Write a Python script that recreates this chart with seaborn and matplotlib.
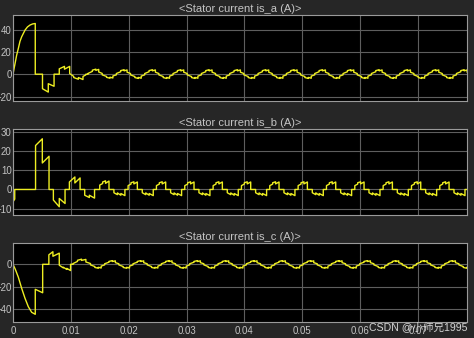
import matplotlib
matplotlib.use("Agg")
import numpy as np
import pandas as pd
import seaborn as sns
import matplotlib.pyplot as plt

# ---------------- data: (time in ms, current in A) ----------------
IS_A = [
    (0.0, 0.0), (0.3, 8.0), (0.63, 17.0), (0.92, 23.0), (1.21, 29.5), (1.5, 33.5),
    (2.08, 39.5), (2.5, 42.3), (2.94, 44.0), (3.4, 45.0), (3.85, 45.4), (3.85, 0.0),
    (5.1, 0.0), (5.1, -13.0), (6.1, -16.0), (6.1, -8.5), (7.1, -10.8), (7.1, 0.0),
    (8.0, 0.0), (8.0, 4.8), (8.9, 7.0), (8.9, 4.5), (9.8, 7.0), (9.8, 0.6),
    (10.5, -2.0), (10.5, -3.0), (11.3, -4.5), (11.3, -3.0), (12.1, -4.8), (12.1, -2.0), (12.6, -0.6), (12.6, 0.0), (12.97, 0.0),
    (12.97, 0.7), (13.72, 2.5), (13.72, 3.6), (14.32, 4.5), (14.32, 3.4), (14.82, 4.3), (14.82, 2.0), (15.42, 0.7),
    (15.42, -0.6), (16.17, -2.0), (16.17, -2.8), (16.77, -3.6), (16.77, -2.7), (17.27, -3.4), (17.27, -1.6), (17.87, -0.6),
    (17.87, 0.6), (18.62, 2.2), (18.62, 3.2), (19.22, 4.0), (19.22, 3.0), (19.72, 3.8), (19.72, 1.8), (20.32, 0.6),
    (20.32, -0.6), (21.07, -2.1), (21.07, -3.0), (21.67, -3.8), (21.67, -2.9), (22.17, -3.6), (22.17, -1.7), (22.77, -0.6),
    (22.77, 0.6), (23.52, 2.2), (23.52, 3.2), (24.12, 4.0), (24.12, 3.0), (24.62, 3.8), (24.62, 1.8), (25.22, 0.6),
    (25.22, -0.6), (25.97, -2.1), (25.97, -3.0), (26.57, -3.8), (26.57, -2.9), (27.07, -3.6), (27.07, -1.7), (27.67, -0.6),
    (27.67, 0.6), (28.42, 2.2), (28.42, 3.2), (29.02, 4.0), (29.02, 3.0), (29.52, 3.8), (29.52, 1.8), (30.12, 0.6),
    (30.12, -0.6), (30.87, -2.1), (30.87, -3.0), (31.47, -3.8), (31.47, -2.9), (31.97, -3.6), (31.97, -1.7), (32.57, -0.6),
    (32.57, 0.6), (33.32, 2.2), (33.32, 3.2), (33.92, 4.0), (33.92, 3.0), (34.42, 3.8), (34.42, 1.8), (35.02, 0.6),
    (35.02, -0.6), (35.77, -2.1), (35.77, -3.0), (36.37, -3.8), (36.37, -2.9), (36.87, -3.6), (36.87, -1.7), (37.47, -0.6),
    (37.47, 0.6), (38.22, 2.2), (38.22, 3.2), (38.82, 4.0), (38.82, 3.0), (39.32, 3.8), (39.32, 1.8), (39.92, 0.6),
    (39.92, -0.6), (40.67, -2.1), (40.67, -3.0), (41.27, -3.8), (41.27, -2.9), (41.77, -3.6), (41.77, -1.7), (42.37, -0.6),
    (42.37, 0.6), (43.12, 2.2), (43.12, 3.2), (43.72, 4.0), (43.72, 3.0), (44.22, 3.8), (44.22, 1.8), (44.82, 0.6),
    (44.82, -0.6), (45.57, -2.1), (45.57, -3.0), (46.17, -3.8), (46.17, -2.9), (46.67, -3.6), (46.67, -1.7), (47.27, -0.6),
    (47.27, 0.6), (48.02, 2.2), (48.02, 3.2), (48.62, 4.0), (48.62, 3.0), (49.12, 3.8), (49.12, 1.8), (49.72, 0.6),
    (49.72, -0.6), (50.47, -2.1), (50.47, -3.0), (51.07, -3.8), (51.07, -2.9), (51.57, -3.6), (51.57, -1.7), (52.17, -0.6),
    (52.17, 0.6), (52.92, 2.2), (52.92, 3.2), (53.52, 4.0), (53.52, 3.0), (54.02, 3.8), (54.02, 1.8), (54.62, 0.6),
    (54.62, -0.6), (55.37, -2.1), (55.37, -3.0), (55.97, -3.8), (55.97, -2.9), (56.47, -3.6), (56.47, -1.7), (57.07, -0.6),
    (57.07, 0.6), (57.82, 2.2), (57.82, 3.2), (58.42, 4.0), (58.42, 3.0), (58.92, 3.8), (58.92, 1.8), (59.52, 0.6),
    (59.52, -0.6), (60.27, -2.1), (60.27, -3.0), (60.87, -3.8), (60.87, -2.9), (61.37, -3.6), (61.37, -1.7), (61.97, -0.6),
    (61.97, 0.6), (62.72, 2.2), (62.72, 3.2), (63.32, 4.0), (63.32, 3.0), (63.82, 3.8), (63.82, 1.8), (64.42, 0.6),
    (64.42, -0.6), (65.17, -2.1), (65.17, -3.0), (65.77, -3.8), (65.77, -2.9), (66.27, -3.6), (66.27, -1.7), (66.87, -0.6),
    (66.87, 0.6), (67.62, 2.2), (67.62, 3.2), (68.22, 4.0), (68.22, 3.0), (68.72, 3.8), (68.72, 1.8), (69.32, 0.6),
    (69.32, -0.6), (70.07, -2.1), (70.07, -3.0), (70.67, -3.8), (70.67, -2.9), (71.17, -3.6), (71.17, -1.7), (71.77, -0.6),
    (71.77, 0.6), (72.52, 2.2), (72.52, 3.2), (73.12, 4.0), (73.12, 3.0), (73.62, 3.8), (73.62, 1.8), (74.22, 0.6),
    (74.22, -0.6), (74.97, -2.1), (74.97, -3.0), (75.57, -3.8), (75.57, -2.9), (76.07, -3.6), (76.07, -1.7), (76.67, -0.6),
    (76.67, 0.6), (77.42, 2.2), (77.42, 3.2), (78.02, 4.0), (78.02, 3.0), (78.52, 3.8), (78.52, 1.8), (79.12, 0.6),
]

IS_B = [
    (0.0, 0.0), (0.05, -6.2), (0.3, -5.0), (0.3, 0.0), (3.9, 0.0), (3.9, 22.9), (5.07, 26.4), (5.07, 13.8),
    (6.23, 17.3), (6.23, 0.0), (6.98, 0.0), (6.98, -5.5), (8.0, -9.0), (8.0, -4.7), (9.0, -7.3), (9.0, 0.0),
    (9.75, 0.0), (9.75, 3.9), (10.7, 6.5), (10.7, 3.4), (11.6, 6.0), (11.6, 0.0),
    (12.4, 0.0), (12.4, -3.0), (13.2, -4.2), (13.2, -3.0), (14.1, -4.5), (14.1, 0.0),
    (15.0, 0.0), (15.0, 2.3), (15.5, 3.1), (15.5, 3.9), (16.0, 4.5), (16.0, 3.2), (16.6, 4.4), (16.6, 0.0),
    (17.45, 0.0), (17.45, -1.7), (18.05, -2.7), (18.05, -1.8), (18.65, -3.0), (18.65, -2.1), (19.35, -3.2), (19.35, 0.0),
    (19.9, 0.0), (19.9, 2.0), (20.4, 2.8), (20.4, 3.5), (20.9, 4.0), (20.9, 2.9), (21.5, 3.9), (21.5, 0.0),
    (22.35, 0.0), (22.35, -1.7), (22.95, -2.7), (22.95, -1.8), (23.55, -3.0), (23.55, -2.1), (24.25, -3.2), (24.25, 0.0),
    (24.8, 0.0), (24.8, 2.0), (25.3, 2.8), (25.3, 3.5), (25.8, 4.0), (25.8, 2.9), (26.4, 3.9), (26.4, 0.0),
    (27.25, 0.0), (27.25, -1.7), (27.85, -2.7), (27.85, -1.8), (28.45, -3.0), (28.45, -2.1), (29.15, -3.2), (29.15, 0.0),
    (29.7, 0.0), (29.7, 2.0), (30.2, 2.8), (30.2, 3.5), (30.7, 4.0), (30.7, 2.9), (31.3, 3.9), (31.3, 0.0),
    (32.15, 0.0), (32.15, -1.7), (32.75, -2.7), (32.75, -1.8), (33.35, -3.0), (33.35, -2.1), (34.05, -3.2), (34.05, 0.0),
    (34.6, 0.0), (34.6, 2.0), (35.1, 2.8), (35.1, 3.5), (35.6, 4.0), (35.6, 2.9), (36.2, 3.9), (36.2, 0.0),
    (37.05, 0.0), (37.05, -1.7), (37.65, -2.7), (37.65, -1.8), (38.25, -3.0), (38.25, -2.1), (38.95, -3.2), (38.95, 0.0),
    (39.5, 0.0), (39.5, 2.0), (40.0, 2.8), (40.0, 3.5), (40.5, 4.0), (40.5, 2.9), (41.1, 3.9), (41.1, 0.0),
    (41.95, 0.0), (41.95, -1.7), (42.55, -2.7), (42.55, -1.8), (43.15, -3.0), (43.15, -2.1), (43.85, -3.2), (43.85, 0.0),
    (44.4, 0.0), (44.4, 2.0), (44.9, 2.8), (44.9, 3.5), (45.4, 4.0), (45.4, 2.9), (46.0, 3.9), (46.0, 0.0),
    (46.85, 0.0), (46.85, -1.7), (47.45, -2.7), (47.45, -1.8), (48.05, -3.0), (48.05, -2.1), (48.75, -3.2), (48.75, 0.0),
    (49.3, 0.0), (49.3, 2.0), (49.8, 2.8), (49.8, 3.5), (50.3, 4.0), (50.3, 2.9), (50.9, 3.9), (50.9, 0.0),
    (51.75, 0.0), (51.75, -1.7), (52.35, -2.7), (52.35, -1.8), (52.95, -3.0), (52.95, -2.1), (53.65, -3.2), (53.65, 0.0),
    (54.2, 0.0), (54.2, 2.0), (54.7, 2.8), (54.7, 3.5), (55.2, 4.0), (55.2, 2.9), (55.8, 3.9), (55.8, 0.0),
    (56.65, 0.0), (56.65, -1.7), (57.25, -2.7), (57.25, -1.8), (57.85, -3.0), (57.85, -2.1), (58.55, -3.2), (58.55, 0.0),
    (59.1, 0.0), (59.1, 2.0), (59.6, 2.8), (59.6, 3.5), (60.1, 4.0), (60.1, 2.9), (60.7, 3.9), (60.7, 0.0),
    (61.55, 0.0), (61.55, -1.7), (62.15, -2.7), (62.15, -1.8), (62.75, -3.0), (62.75, -2.1), (63.45, -3.2), (63.45, 0.0),
    (64.0, 0.0), (64.0, 2.0), (64.5, 2.8), (64.5, 3.5), (65.0, 4.0), (65.0, 2.9), (65.6, 3.9), (65.6, 0.0),
    (66.45, 0.0), (66.45, -1.7), (67.05, -2.7), (67.05, -1.8), (67.65, -3.0), (67.65, -2.1), (68.35, -3.2), (68.35, 0.0),
    (68.9, 0.0), (68.9, 2.0), (69.4, 2.8), (69.4, 3.5), (69.9, 4.0), (69.9, 2.9), (70.5, 3.9), (70.5, 0.0),
    (71.35, 0.0), (71.35, -1.7), (71.95, -2.7), (71.95, -1.8), (72.55, -3.0), (72.55, -2.1), (73.25, -3.2), (73.25, 0.0),
    (73.8, 0.0), (73.8, 2.0), (74.3, 2.8), (74.3, 3.5), (74.8, 4.0), (74.8, 2.9), (75.4, 3.9), (75.4, 0.0),
    (76.25, 0.0), (76.25, -1.7), (76.85, -2.7), (76.85, -1.8), (77.45, -3.0), (77.45, -2.1), (78.15, -3.2), (78.15, 0.0),
    (78.7, 0.0), (78.7, 2.0), (79.2, 2.8),
]

IS_C = [
    (0.0, 0.0), (0.4, -4.5), (0.92, -11.5), (1.5, -21.5), (2.08, -30.5), (2.65, -38.0), (3.23, -43.0), (3.85, -44.8),
    (3.85, -22.4), (5.13, -25.5), (5.13, 0.0), (6.2, 0.0), (6.2, 8.5), (6.9, 11.3), (6.9, 7.2), (8.0, 10.0),
    (8.0, -0.8), (8.7, -3.2), (8.7, -2.6), (9.3, -4.6), (9.3, -3.6), (9.95, -5.6), (9.95, 0.0), (10.4, 0.0),
    (10.4, 0.7), (11.15, 2.6), (11.15, 3.6), (11.85, 4.6), (11.85, 3.5), (12.6, 4.4), (12.6, 2.1), (13.4, 0.7),
    (13.4, -0.5), (14.15, -2.0), (14.15, -2.8), (14.75, -3.5), (14.75, -2.7), (15.25, -3.3), (15.25, -1.6), (15.85, -0.5),
    (15.85, 0.5), (16.6, 1.9), (16.6, 2.6), (17.2, 3.3), (17.2, 2.5), (17.7, 3.1), (17.7, 1.5), (18.3, 0.5),
    (18.3, -0.5), (19.05, -2.0), (19.05, -2.8), (19.65, -3.5), (19.65, -2.7), (20.15, -3.3), (20.15, -1.6), (20.75, -0.5),
    (20.75, 0.5), (21.5, 1.9), (21.5, 2.6), (22.1, 3.3), (22.1, 2.5), (22.6, 3.1), (22.6, 1.5), (23.2, 0.5),
    (23.2, -0.5), (23.95, -2.0), (23.95, -2.8), (24.55, -3.5), (24.55, -2.7), (25.05, -3.3), (25.05, -1.6), (25.65, -0.5),
    (25.65, 0.5), (26.4, 1.9), (26.4, 2.6), (27.0, 3.3), (27.0, 2.5), (27.5, 3.1), (27.5, 1.5), (28.1, 0.5),
    (28.1, -0.5), (28.85, -2.0), (28.85, -2.8), (29.45, -3.5), (29.45, -2.7), (29.95, -3.3), (29.95, -1.6), (30.55, -0.5),
    (30.55, 0.5), (31.3, 1.9), (31.3, 2.6), (31.9, 3.3), (31.9, 2.5), (32.4, 3.1), (32.4, 1.5), (33.0, 0.5),
    (33.0, -0.5), (33.75, -2.0), (33.75, -2.8), (34.35, -3.5), (34.35, -2.7), (34.85, -3.3), (34.85, -1.6), (35.45, -0.5),
    (35.45, 0.5), (36.2, 1.9), (36.2, 2.6), (36.8, 3.3), (36.8, 2.5), (37.3, 3.1), (37.3, 1.5), (37.9, 0.5),
    (37.9, -0.5), (38.65, -2.0), (38.65, -2.8), (39.25, -3.5), (39.25, -2.7), (39.75, -3.3), (39.75, -1.6), (40.35, -0.5),
    (40.35, 0.5), (41.1, 1.9), (41.1, 2.6), (41.7, 3.3), (41.7, 2.5), (42.2, 3.1), (42.2, 1.5), (42.8, 0.5),
    (42.8, -0.5), (43.55, -2.0), (43.55, -2.8), (44.15, -3.5), (44.15, -2.7), (44.65, -3.3), (44.65, -1.6), (45.25, -0.5),
    (45.25, 0.5), (46.0, 1.9), (46.0, 2.6), (46.6, 3.3), (46.6, 2.5), (47.1, 3.1), (47.1, 1.5), (47.7, 0.5),
    (47.7, -0.5), (48.45, -2.0), (48.45, -2.8), (49.05, -3.5), (49.05, -2.7), (49.55, -3.3), (49.55, -1.6), (50.15, -0.5),
    (50.15, 0.5), (50.9, 1.9), (50.9, 2.6), (51.5, 3.3), (51.5, 2.5), (52.0, 3.1), (52.0, 1.5), (52.6, 0.5),
    (52.6, -0.5), (53.35, -2.0), (53.35, -2.8), (53.95, -3.5), (53.95, -2.7), (54.45, -3.3), (54.45, -1.6), (55.05, -0.5),
    (55.05, 0.5), (55.8, 1.9), (55.8, 2.6), (56.4, 3.3), (56.4, 2.5), (56.9, 3.1), (56.9, 1.5), (57.5, 0.5),
    (57.5, -0.5), (58.25, -2.0), (58.25, -2.8), (58.85, -3.5), (58.85, -2.7), (59.35, -3.3), (59.35, -1.6), (59.95, -0.5),
    (59.95, 0.5), (60.7, 1.9), (60.7, 2.6), (61.3, 3.3), (61.3, 2.5), (61.8, 3.1), (61.8, 1.5), (62.4, 0.5),
    (62.4, -0.5), (63.15, -2.0), (63.15, -2.8), (63.75, -3.5), (63.75, -2.7), (64.25, -3.3), (64.25, -1.6), (64.85, -0.5),
    (64.85, 0.5), (65.6, 1.9), (65.6, 2.6), (66.2, 3.3), (66.2, 2.5), (66.7, 3.1), (66.7, 1.5), (67.3, 0.5),
    (67.3, -0.5), (68.05, -2.0), (68.05, -2.8), (68.65, -3.5), (68.65, -2.7), (69.15, -3.3), (69.15, -1.6), (69.75, -0.5),
    (69.75, 0.5), (70.5, 1.9), (70.5, 2.6), (71.1, 3.3), (71.1, 2.5), (71.6, 3.1), (71.6, 1.5), (72.2, 0.5),
    (72.2, -0.5), (72.95, -2.0), (72.95, -2.8), (73.55, -3.5), (73.55, -2.7), (74.05, -3.3), (74.05, -1.6), (74.65, -0.5),
    (74.65, 0.5), (75.4, 1.9), (75.4, 2.6), (76.0, 3.3), (76.0, 2.5), (76.5, 3.1), (76.5, 1.5), (77.1, 0.5),
    (77.1, -0.5), (77.85, -2.0), (77.85, -2.8), (78.45, -3.5), (78.45, -2.7), (78.95, -3.3), (78.95, -1.6), (79.55, -0.5),
]

TITLES = ["<Stator current is_a (A)>", "<Stator current is_b (A)>", "<Stator current is_c (A)>"]
X_TICKS = [0.0, 0.01, 0.02, 0.03, 0.04, 0.05, 0.06, 0.07]
X_LABELS = ["0", "0.01", "0.02", "0.03", "0.04", "0.05", "0.06", "0.07"]
Y_TICKS = [[-20, 0, 20, 40], [-10, 0, 10, 20, 30], [-40, -20, 0]]
Y_LIMS = [(-24.0, 53.0), (-13.3, 31.5), (-51.7, 19.1)]
X_MAX = 0.0785
WATERMARK = "CSDN @小师兄1995"

# ---------------- style ----------------
BG = "#262626"
AX_BG = "#000000"
LINE = "#EEEE22"
GRID = "#5E5E5E"
SPINE = "#9A9A9A"
TXT = "#C4C4C4"

sns.set_theme(style="dark")
plt.rcParams["font.family"] = ["Liberation Sans", "Noto Sans CJK SC", "DejaVu Sans"]

fig = plt.figure(figsize=(4.74, 3.38), dpi=100, facecolor=BG)
W, H = 474.0, 338.0
boxes = [(13, 15, 467, 101), (13, 129, 467, 215), (13, 243, 467, 322)]

series = [IS_A, IS_B, IS_C]
for k, (pts, (x0, y0, x1, y1)) in enumerate(zip(series, boxes)):
    ax = fig.add_axes([x0 / W, 1 - y1 / H, (x1 - x0) / W, (y1 - y0) / H])
    ax.set_facecolor(AX_BG)
    tt, vv = zip(*pts)
    df = pd.DataFrame({"t": np.asarray(tt) / 1000.0, "i": np.asarray(vv)})
    sns.lineplot(data=df, x="t", y="i", ax=ax, sort=False, estimator=None,
                 color=LINE, linewidth=1.0)
    ax.set_xlim(0, X_MAX)
    ax.set_ylim(*Y_LIMS[k])
    ax.set_xticks(X_TICKS)
    ax.set_yticks(Y_TICKS[k])
    if k == 2:
        ax.set_xticklabels(X_LABELS)
    else:
        ax.set_xticklabels([])
    ax.set_xlabel("")
    ax.set_ylabel("")
    ax.grid(True, color=GRID, linewidth=0.8)
    ax.tick_params(axis="both", length=0, labelsize=6.9, labelcolor=TXT)
    ax.tick_params(axis="y", pad=1.0)
    ax.tick_params(axis="x", pad=3.0)
    for s in ax.spines.values():
        s.set_color(SPINE)
        s.set_linewidth(0.8)
    ax.set_title(TITLES[k], color=TXT, fontsize=8, pad=2.5)

fig.text(369 / W, 1 - 327 / H, WATERMARK, color="#E6E6E6", fontsize=7.6,
         ha="left", va="center", alpha=0.9)

fig.savefig("out.png", dpi=100, facecolor=BG)
